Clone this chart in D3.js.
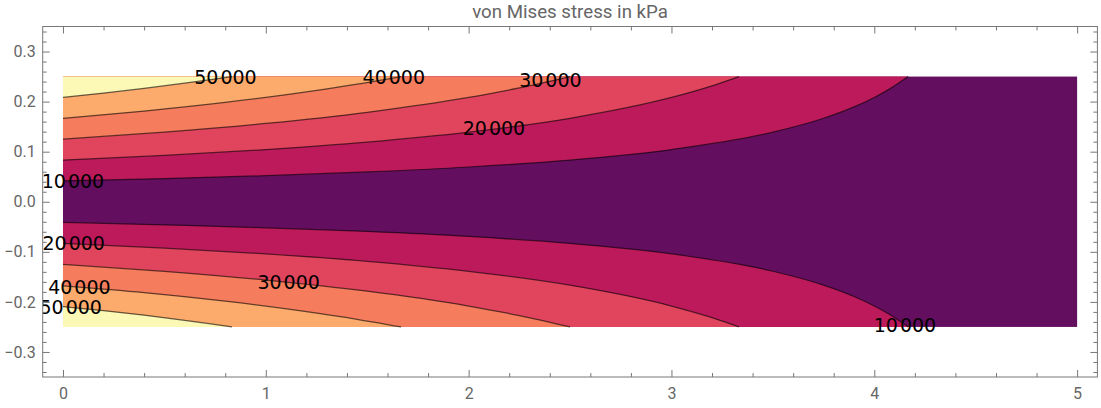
<!DOCTYPE html>
<html>
<head>
<meta charset="utf-8">
<script src="https://cdn.jsdelivr.net/npm/d3@7"></script>
<style>
  body { margin: 0; background: #fff; }
  svg { display: block; }
</style>
</head>
<body>
<svg id="chart"></svg>
<script>
const title = 'von Mises stress in kPa';
const levels = [10000, 20000, 30000, 40000, 50000];
// fill below first level, then above each level
const bandColors = ['#640e5f', '#bd1a5c', '#e1455d', '#f57c5c', '#fdab6c', '#fcf8b6'];
const beamLength = 5;
const beamHalfHeight = 0.25;

// contour lines (x along the beam, y on the upper / lower side)
const x10000 = [0, 0.5, 1, 1.5, 2, 2.5, 3, 3.5, 3.75, 3.9, 4, 4.08, 4.167];
const up10000 = [0.0417, 0.0463, 0.0521, 0.0595, 0.0694, 0.0833, 0.1042, 0.1389, 0.1667, 0.1894, 0.2083, 0.2264, 0.25];
const lo10000 = [-0.041, -0.0462, -0.052, -0.0594, -0.0693, -0.0832, -0.1041, -0.1388, -0.1666, -0.1893, -0.2082, -0.2263, -0.25];

const x20000 = [0, 0.5, 1, 1.5, 2, 2.5, 3, 3.2, 3.333];
const up20000 = [0.0833, 0.0926, 0.1042, 0.119, 0.1389, 0.1667, 0.2083, 0.2315, 0.25];
const lo20000 = [-0.0832, -0.0925, -0.1041, -0.119, -0.1389, -0.1667, -0.2083, -0.2315, -0.25];

const x30000 = [0, 0.5, 1, 1.5, 2, 2.25, 2.5];
const up30000 = [0.125, 0.1389, 0.1563, 0.1786, 0.2083, 0.2273, 0.25];
const lo30000 = [-0.125, -0.1389, -0.1563, -0.1786, -0.2083, -0.2273, -0.25];

const x40000 = [0, 0.4, 0.8, 1.2, 1.45, 1.667];
const up40000 = [0.1667, 0.1812, 0.1984, 0.2193, 0.2347, 0.25];
const lo40000 = [-0.168, -0.1815, -0.1985, -0.2193, -0.2347, -0.25];

const x50000 = [0, 0.2, 0.4, 0.6, 0.72, 0.833];
const up50000 = [0.2083, 0.217, 0.2264, 0.2367, 0.2434, 0.25];
const lo50000 = [-0.2096, -0.2175, -0.2266, -0.2368, -0.2434, -0.25];

// contour label anchors [level, x, y]
const contourLabels = [
  [50000, 0.801, 0.249], [40000, 1.631, 0.249], [30000, 2.403, 0.243],
  [20000, 2.125, 0.146], [10000, 0.049, 0.0407],
  [20000, 0.053, -0.083], [30000, 1.1125, -0.1607], [40000, 0.081, -0.170],
  [50000, 0.038, -0.210], [10000, 4.151, -0.247]
];

const xTicks = [0, 1, 2, 3, 4, 5];
const yTicks = [-0.3, -0.2, -0.1, 0, 0.1, 0.2, 0.3];
const xDomain = [-0.1, 5.1];
const yDomain = [-0.35, 0.35];

const contours = [
  { level: 10000, xs: x10000, up: up10000, lo: lo10000 },
  { level: 20000, xs: x20000, up: up20000, lo: lo20000 },
  { level: 30000, xs: x30000, up: up30000, lo: lo30000 },
  { level: 40000, xs: x40000, up: up40000, lo: lo40000 },
  { level: 50000, xs: x50000, up: up50000, lo: lo50000 }
];

const width = 1101, height = 408;
const frame = { left: 42.7, right: 1097.4, top: 26.5, bottom: 377 };

const svg = d3.select('#chart').attr('width', width).attr('height', height);

const x = d3.scaleLinear().domain(xDomain).range([frame.left, frame.right]);
const y = d3.scaleLinear().domain(yDomain).range([frame.bottom, frame.top]);

svg.append('defs').append('clipPath').attr('id', 'frame')
  .append('rect')
  .attr('x', frame.left).attr('y', frame.top)
  .attr('width', frame.right - frame.left).attr('height', frame.bottom - frame.top);

const plot = svg.append('g').attr('clip-path', 'url(#frame)');

// beam, lowest band
plot.append('rect')
  .attr('x', x(0))
  .attr('y', y(beamHalfHeight))
  .attr('width', x(beamLength) - x(0))
  .attr('height', y(-beamHalfHeight) - y(beamHalfHeight))
  .attr('fill', bandColors[0]);

contours.forEach((c, i) => {
  const upPts = c.xs.map((v, j) => [v, c.up[j]]);
  const loPts = c.xs.map((v, j) => [v, c.lo[j]]);

  const upArea = d3.area()
    .x(d => x(d[0]))
    .y0(y(beamHalfHeight))
    .y1(d => y(d[1]))
    .curve(d3.curveMonotoneX);
  const loArea = d3.area()
    .x(d => x(d[0]))
    .y0(y(-beamHalfHeight))
    .y1(d => y(d[1]))
    .curve(d3.curveMonotoneX);

  plot.append('path').attr('d', upArea(upPts)).attr('fill', bandColors[i + 1]);
  plot.append('path').attr('d', loArea(loPts)).attr('fill', bandColors[i + 1]);
});

const line = d3.line()
  .x(d => x(d[0]))
  .y(d => y(d[1]))
  .curve(d3.curveMonotoneX);

contours.forEach(c => {
  [c.up, c.lo].forEach(ys => {
    plot.append('path')
      .attr('d', line(c.xs.map((v, j) => [v, ys[j]])))
      .attr('fill', 'none')
      .attr('stroke', '#000')
      .attr('stroke-opacity', 0.6)
      .attr('stroke-width', 1.25);
  });
});

// contour labels
const labels = plot.append('g')
  .attr('font-family', '"DejaVu Sans", sans-serif')
  .attr('font-size', 19)
  .attr('fill', '#000')
  .attr('text-anchor', 'middle');

contourLabels.forEach(([lev, lx, ly]) => {
  const parts = d3.format(',')(lev).split(',');
  const t = labels.append('text')
    .attr('x', x(lx))
    .attr('y', y(ly))
    .attr('dy', '0.36em');
  t.append('tspan').text(parts[0]);
  t.append('tspan').attr('dx', 2).text(parts[1]);
});

// axes: ticks pointing inward on all four sides
const axisColor = '#777';
const textColor = '#666';
const xMinor = d3.range(0, 5.01, 0.2).map(v => +v.toFixed(2)).filter(v => !xTicks.includes(v));
const yMinor = d3.range(-0.34, 0.341, 0.02).map(v => +v.toFixed(2)).filter(v => !yTicks.some(t => Math.abs(t - v) < 1e-6));

function styleAxis(g) {
  g.select('.domain').remove();
  g.selectAll('line').attr('stroke', axisColor);
  g.selectAll('text')
    .attr('fill', textColor)
    .attr('font-family', 'Roboto, sans-serif')
    .attr('font-size', 16);
}

svg.append('g').attr('transform', `translate(0,${frame.bottom})`)
  .call(d3.axisBottom(x).tickValues(xTicks).tickSize(-7).tickPadding(11).tickFormat(d3.format('d')))
  .call(styleAxis);
svg.append('g').attr('transform', `translate(0,${frame.bottom})`)
  .call(d3.axisBottom(x).tickValues(xMinor).tickSize(-4).tickFormat(''))
  .call(styleAxis);
svg.append('g').attr('transform', `translate(0,${frame.top})`)
  .call(d3.axisTop(x).tickValues(xTicks).tickSize(-7).tickFormat(''))
  .call(styleAxis);
svg.append('g').attr('transform', `translate(0,${frame.top})`)
  .call(d3.axisTop(x).tickValues(xMinor).tickSize(-4).tickFormat(''))
  .call(styleAxis);

svg.append('g').attr('transform', `translate(${frame.left},0)`)
  .call(d3.axisLeft(y).tickValues(yTicks).tickSize(-7).tickPadding(7).tickFormat(d3.format('.1f')))
  .call(styleAxis);
svg.append('g').attr('transform', `translate(${frame.left},0)`)
  .call(d3.axisLeft(y).tickValues(yMinor).tickSize(-4).tickFormat(''))
  .call(styleAxis);
svg.append('g').attr('transform', `translate(${frame.right},0)`)
  .call(d3.axisRight(y).tickValues(yTicks).tickSize(-7).tickFormat(''))
  .call(styleAxis);
svg.append('g').attr('transform', `translate(${frame.right},0)`)
  .call(d3.axisRight(y).tickValues(yMinor).tickSize(-4).tickFormat(''))
  .call(styleAxis);

svg.append('rect')
  .attr('x', frame.left).attr('y', frame.top)
  .attr('width', frame.right - frame.left).attr('height', frame.bottom - frame.top)
  .attr('fill', 'none')
  .attr('stroke', axisColor)
  .attr('stroke-width', 1);

svg.append('text')
  .attr('x', (frame.left + frame.right) / 2)
  .attr('y', 18)
  .attr('text-anchor', 'middle')
  .attr('font-family', 'Roboto, sans-serif')
  .attr('font-size', 18.7)
  .attr('fill', textColor)
  .text(title);
</script>
</body>
</html>
